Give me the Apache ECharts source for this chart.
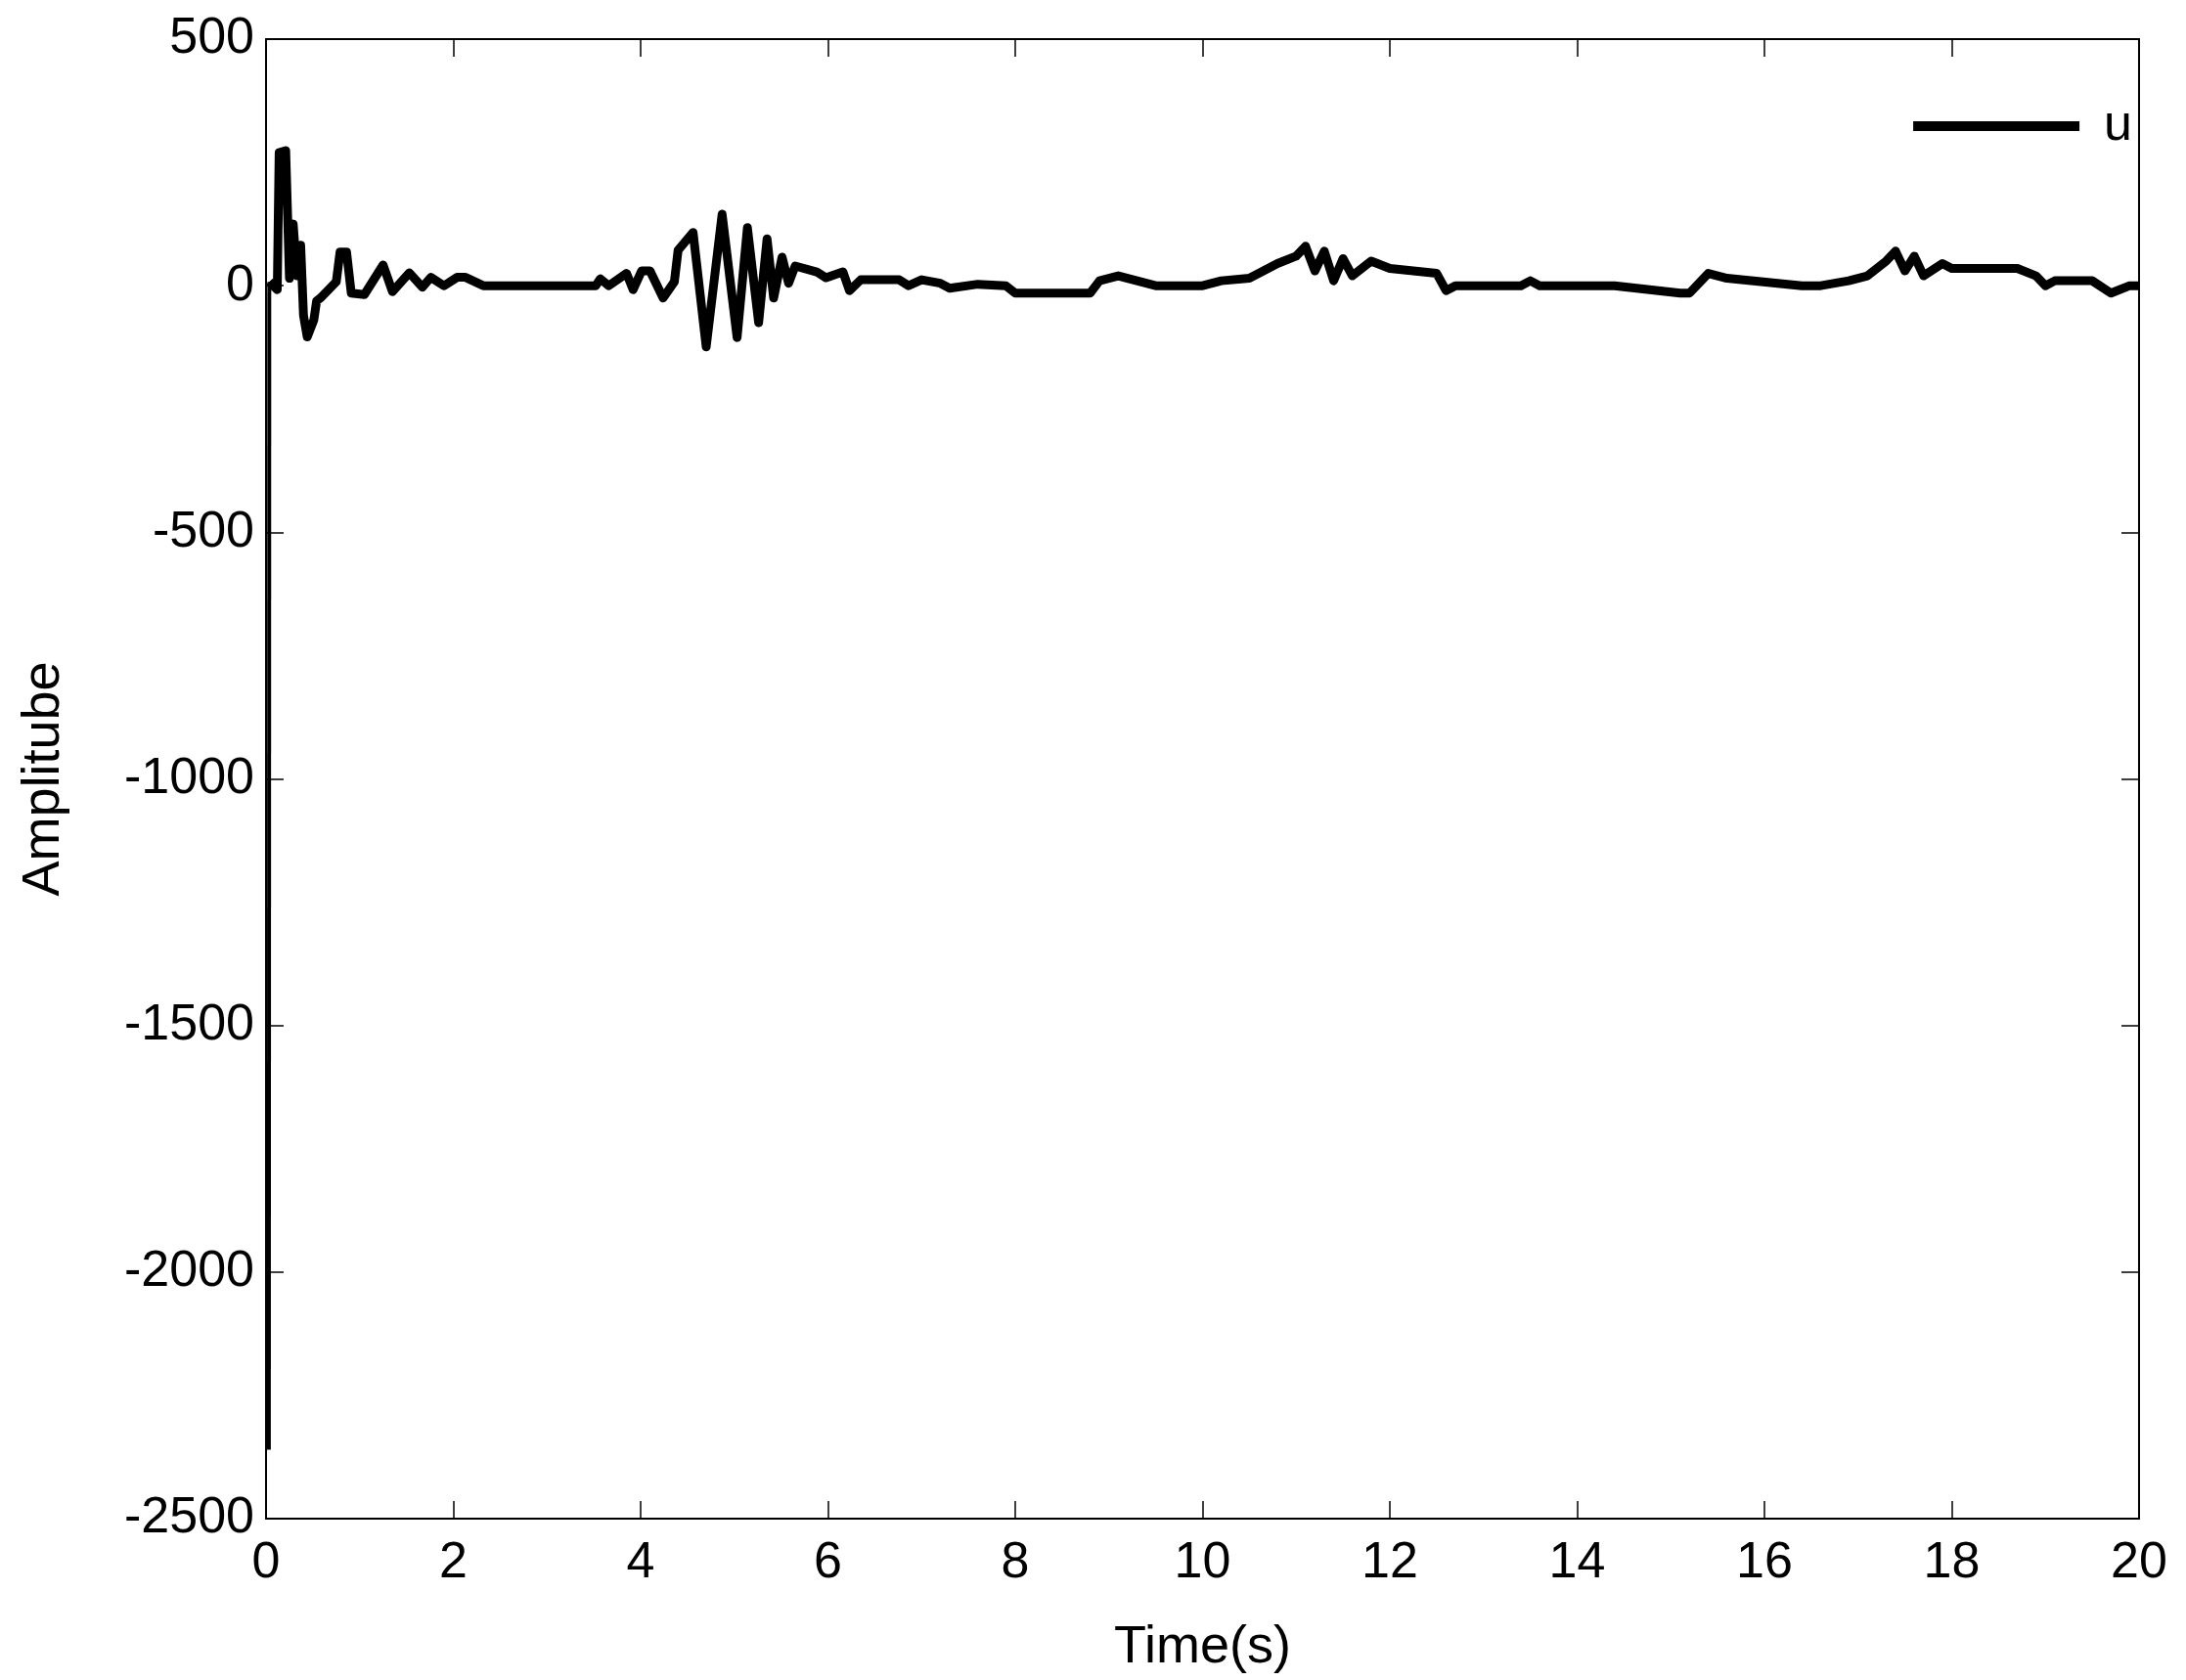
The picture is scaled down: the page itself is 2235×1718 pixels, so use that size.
<!DOCTYPE html>
<html>
<head>
<meta charset="utf-8">
<script src="https://cdn.jsdelivr.net/npm/echarts@6/dist/echarts.min.js"></script>
<style>html,body{margin:0;background:#fff}#c{width:2235px;height:1718px}</style>
</head>
<body>
<div id="c"></div>
<script>
const timeS = [0.03, 0.035, 0.12, 0.14, 0.21, 0.25, 0.29, 0.33, 0.37, 0.40, 0.44, 0.51, 0.54, 0.58, 0.75, 0.79, 0.86, 0.91, 1.05, 1.25, 1.35, 1.53, 1.67, 1.76, 1.90, 2.04, 2.13, 2.32, 3.52, 3.57, 3.66, 3.85, 3.92, 4.01, 4.10, 4.24, 4.36, 4.40, 4.56, 4.70, 4.87, 5.03, 5.14, 5.26, 5.35, 5.42, 5.51, 5.58, 5.65, 5.88, 5.98, 6.16, 6.23, 6.35, 6.76, 6.86, 7.0, 7.2, 7.3, 7.6, 7.9, 8.0, 8.8, 8.9, 9.1, 9.3, 9.5, 10.0, 10.2, 10.5, 10.8, 11.0, 11.1, 11.2, 11.3, 11.4, 11.5, 11.6, 11.8, 12.0, 12.5, 12.6, 12.7, 13.4, 13.5, 13.6, 14.4, 15.1, 15.2, 15.4, 15.6, 16.4, 16.6, 16.9, 17.1, 17.3, 17.4, 17.5, 17.6, 17.7, 17.9, 18.0, 18.7, 18.9, 19.0, 19.1, 19.5, 19.7, 19.9, 20];
const uValues = [-2360, 8, -8, 270, 274, 15, 125, 20, 82, -60, -104, -70, -31, -25, 8, 68, 68, -15, -18, 42, -12, 26, -3, 17, 0, 17, 17, 0, 0, 14, 0, 25, -8, 30, 30, -25, 8, 72, 108, -124, 145, -105, 118, -75, 95, -25, 58, 5, 40, 28, 16, 28, -10, 12, 12, 0, 12, 5, -5, 3, 0, -15, -15, 10, 20, 10, 0, 0, 10, 15, 45, 60, 80, 30, 70, 10, 55, 20, 50, 35, 25, -10, 0, 0, 10, 0, 0, -15, -15, 25, 15, 0, 0, 10, 20, 50, 70, 30, 60, 20, 45, 35, 35, 20, 0, 10, 10, -15, 0, 0];
const xTicks = [0, 20, 2];
const yTicks = [-2500, 500, 500];

const font = 'Liberation Sans, Arial, sans-serif';
const chart = echarts.init(document.getElementById('c'));
const axisCommon = {
  axisLine: {show: true, onZero: false, lineStyle: {color: '#000', width: 2}},
  axisTick: {show: true, inside: true, length: 18, lineStyle: {color: '#000', width: 1.5}},
  splitLine: {show: false}
};
const points = timeS.map((t, i) => [t, uValues[i]]);
chart.setOption({
  animation: false,
  backgroundColor: '#fff',
  grid: {left: 272, right: 48, top: 40, bottom: 165},
  legend: {
    right: 50, top: 98, itemWidth: 170, itemHeight: 10, itemGap: 30,
    textStyle: {fontFamily: font, fontSize: 52, color: '#000', padding: [0, 0, 0, 20]},
    data: [{name: 'u', icon: 'rect'}]
  },
  xAxis: [
    Object.assign({type: 'value', min: xTicks[0], max: xTicks[1], interval: xTicks[2],
      name: 'Time(s)', nameLocation: 'middle', nameGap: 105,
      nameTextStyle: {fontFamily: font, fontSize: 54, color: '#000'},
      axisLabel: {fontFamily: font, fontSize: 52, color: '#000', margin: 20}}, axisCommon),
    Object.assign({type: 'value', position: 'top', min: xTicks[0], max: xTicks[1], interval: xTicks[2],
      axisLabel: {show: false}}, axisCommon)
  ],
  yAxis: [
    Object.assign({type: 'value', min: yTicks[0], max: yTicks[1], interval: yTicks[2],
      name: 'Amplitube', nameLocation: 'middle', nameGap: 200, nameRotate: 90,
      nameTextStyle: {fontFamily: font, fontSize: 54, color: '#000'},
      axisLabel: {fontFamily: font, fontSize: 52, color: '#000', margin: 12, formatter: v => String(v)}}, axisCommon),
    Object.assign({type: 'value', position: 'right', min: yTicks[0], max: yTicks[1], interval: yTicks[2],
      axisLabel: {show: false}}, axisCommon)
  ],
  series: [{
    name: 'u', type: 'line', showSymbol: false, symbol: 'none',
    color: '#000', lineStyle: {color: '#000', width: 9, join: 'round'},
    data: points.slice(1)
  }, {
    name: 'spike', type: 'line', showSymbol: false, symbol: 'none',
    lineStyle: {color: '#000', width: 4},
    data: points.slice(0, 2)
  }]
});
</script>
</body>
</html>
